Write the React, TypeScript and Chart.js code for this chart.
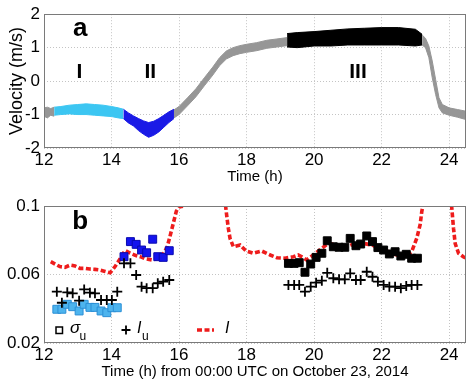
import React, { useEffect, useRef } from 'react';
import { Chart, registerables } from 'chart.js';
Chart.register(...registerables);

const FONT = 'Arial, "Liberation Sans", sans-serif';

// ---------- Panel a: velocity envelopes (upper / lower) per segment ----------
const gray1T = [12.0, 12.1, 12.2, 12.3];
const gray1Hi = [-0.8, -0.78, -0.82, -0.78];
const gray1Lo = [-1.05, -1.1, -1.02, -1.05];

const phase1T = [12.3, 12.5, 12.75, 13.0, 13.25, 13.5, 13.75, 14.0, 14.2, 14.35];
const phase1Hi = [-0.78, -0.76, -0.72, -0.7, -0.68, -0.7, -0.72, -0.76, -0.8, -0.84];
const phase1Lo = [-1.02, -1.0, -0.98, -1.0, -1.0, -1.02, -1.04, -1.06, -1.1, -1.12];

const phase2T = [14.35, 14.5, 14.65, 14.8, 14.95, 15.1, 15.25, 15.4, 15.55, 15.7, 15.85];
const phase2Hi = [-0.84, -0.95, -1.04, -1.12, -1.19, -1.24, -1.2, -1.12, -1.02, -0.92, -0.84];
const phase2Lo = [-1.12, -1.25, -1.34, -1.48, -1.59, -1.68, -1.62, -1.52, -1.38, -1.24, -1.12];

const gray2T = [15.85, 16.0, 16.25, 16.5, 16.75, 17.0, 17.2, 17.4, 17.6, 17.8, 18.0, 18.3, 18.6, 18.9, 19.2];
const gray2Hi = [-0.86, -0.76, -0.5, -0.23, 0.1, 0.42, 0.7, 0.9, 1.0, 1.06, 1.1, 1.15, 1.22, 1.26, 1.3];
const gray2Lo = [-1.1, -1.0, -0.74, -0.47, -0.14, 0.18, 0.46, 0.66, 0.76, 0.82, 0.86, 0.91, 0.98, 1.02, 1.06];

const phase3T = [19.2, 19.5, 20.0, 20.5, 21.0, 21.5, 22.0, 22.5, 23.0, 23.2];
const phase3Hi = [1.42, 1.45, 1.48, 1.52, 1.56, 1.58, 1.6, 1.6, 1.55, 1.4];
const phase3Lo = [1.02, 1.0, 1.05, 1.05, 1.08, 1.08, 1.08, 1.08, 1.05, 1.08];

const gray3T = [23.2, 23.3, 23.4, 23.5, 23.6, 23.7, 23.8, 24.0, 24.25, 24.5];
const gray3Hi = [1.38, 1.28, 1.05, 0.6, 0.05, -0.5, -0.7, -0.8, -0.85, -0.9];
const gray3Lo = [1.08, 1.0, 0.7, 0.1, -0.4, -0.8, -0.95, -1.02, -1.08, -1.15];

const xTicks = [12, 14, 16, 18, 20, 22, 24];
const velTicks = [-2, -1, 0, 1, 2];
const phaseLabels = ['I', 'II', 'III'];
const phaseLabelTimes = [13.05, 15.15, 21.3];
const phaseLabelVel = 0.28;

// ---------- Panel b ----------
const sigma1T = [12.38, 12.53, 12.69, 12.85, 13.04, 13.19, 13.36, 13.51, 13.69, 13.86, 14.01, 14.17];
const sigma1V = [0.0397, 0.0397, 0.0426, 0.0412, 0.0387, 0.0426, 0.0408, 0.0408, 0.0387, 0.0377, 0.0406, 0.0406];
const iu1V = [0.05, 0.0435, 0.0496, 0.049, 0.0447, 0.0513, 0.0494, 0.049, 0.0451, 0.0451, 0.0451, 0.05];

const sigma2T = [14.37, 14.56, 14.73, 14.89, 15.04, 15.22, 15.37, 15.53, 15.71];
const sigma2V = [0.0704, 0.0792, 0.0776, 0.0743, 0.0727, 0.0806, 0.0704, 0.07, 0.0739];
const iu2V = [0.0665, 0.0665, 0.0597, 0.0529, 0.052, 0.052, 0.0549, 0.0558, 0.0568];

const sigma3T = [19.24, 19.41, 19.56, 19.73, 19.9, 20.06, 20.23, 20.39, 20.57, 20.74, 20.91, 21.07, 21.24, 21.38, 21.56, 21.73, 21.89, 22.06, 22.23, 22.4, 22.57, 22.73, 22.89, 23.06];
const sigma3V = [0.0665, 0.0665, 0.0669, 0.0613, 0.0661, 0.07, 0.0724, 0.0797, 0.0762, 0.0759, 0.0759, 0.0811, 0.0768, 0.0778, 0.0825, 0.0792, 0.0757, 0.0743, 0.072, 0.0733, 0.0708, 0.0718, 0.0695, 0.0695];
const iu3V = [0.0539, 0.0539, 0.0539, 0.05, 0.0529, 0.0552, 0.0564, 0.061, 0.0578, 0.0572, 0.0572, 0.0607, 0.0568, 0.0568, 0.0616, 0.0587, 0.0558, 0.0539, 0.0529, 0.0529, 0.052, 0.0533, 0.0539, 0.0539];

const int1T = [12.2, 12.33, 12.47, 12.62, 12.77, 12.92, 13.07, 13.21, 13.36, 13.51, 13.66, 13.81, 13.96, 14.1, 14.25, 14.4, 14.55, 14.7, 14.85, 15.0, 15.2, 15.4, 15.55, 15.65, 15.73, 15.83, 15.92, 16.0, 16.15, 16.22];
const int1V = [0.0675, 0.0661, 0.0646, 0.0642, 0.0655, 0.065, 0.0636, 0.0636, 0.0632, 0.063, 0.0626, 0.0618, 0.061, 0.0645, 0.069, 0.074, 0.0725, 0.0712, 0.0704, 0.0692, 0.0685, 0.0695, 0.0725, 0.0762, 0.0821, 0.0899, 0.097, 0.0995, 0.1, 0.11];
const int2T = [17.35, 17.41, 17.46, 17.51, 17.61, 17.81, 17.99, 18.2, 18.45, 18.7, 18.9, 19.14, 19.39, 19.53, 19.68, 19.78, 19.98, 20.23, 20.42, 20.67, 20.97, 21.21, 21.46, 21.71, 21.96, 22.2, 22.45, 22.7, 22.89, 23.04, 23.14, 23.19, 23.22, 23.25];
const int2V = [0.105, 0.0947, 0.087, 0.0811, 0.0762, 0.0772, 0.0737, 0.0724, 0.0737, 0.0714, 0.0698, 0.0695, 0.0704, 0.0714, 0.0698, 0.0685, 0.0714, 0.0753, 0.0782, 0.0772, 0.0762, 0.0782, 0.0782, 0.0772, 0.0753, 0.0733, 0.0714, 0.0704, 0.0733, 0.0811, 0.0889, 0.0967, 0.0996, 0.11];
const int3T = [24.04, 24.08, 24.13, 24.18, 24.28, 24.42, 24.5];
const int3V = [0.105, 0.0987, 0.087, 0.078, 0.0724, 0.0704, 0.0695];

const tiTicks = [0.02, 0.06, 0.1];

const pts = (t: number[], v: number[]) => t.map((x, i) => ({ x, y: v[i] }));

const boxPlugin = {
  id: 'box',
  afterDraw(chart: any) {
    const { ctx, chartArea: a } = chart;
    ctx.save();
    ctx.strokeStyle = '#7a7a7a';
    ctx.lineWidth = 1;
    ctx.strokeRect(Math.round(a.left) + 0.5, Math.round(a.top) + 0.5, Math.round(a.right - a.left) - 1, Math.round(a.bottom - a.top) - 1);
    ctx.restore();
  },
};

function band(t: number[], hi: number[], lo: number[], color: string) {
  return [
    { data: pts(t, hi), borderColor: color, backgroundColor: color, borderWidth: 1, pointRadius: 0, fill: false },
    { data: pts(t, lo), borderColor: color, backgroundColor: color, borderWidth: 1, pointRadius: 0, fill: '-1' },
  ];
}

function axisX(title: string, titlePadBottom: number, height: number) {
  return {
    type: 'linear',
    min: 12,
    max: 24.5,
    afterBuildTicks: (s: any) => { s.ticks = xTicks.map((value) => ({ value })); },
    afterFit: (s: any) => { s.height = height; },
    grid: { color: '#c4c4c4', drawTicks: false, lineWidth: 1 },
    border: { display: false, dash: [1, 2] },
    ticks: { font: { family: FONT, size: 17 }, color: '#000', padding: 2, maxRotation: 0, autoSkip: false },
    title: { display: true, text: title, font: { family: FONT, size: 15 }, color: '#000', padding: { top: 0, bottom: titlePadBottom } },
  };
}

function topConfig(): any {
  const gray = '#969696';
  return {
    type: 'line',
    data: {
      datasets: [
        ...band(gray1T, gray1Hi, gray1Lo, gray),
        ...band(phase1T, phase1Hi, phase1Lo, '#3cc6f2'),
        ...band(phase2T, phase2Hi, phase2Lo, '#1a1ae6'),
        ...band(gray2T, gray2Hi, gray2Lo, gray),
        ...band(phase3T, phase3Hi, phase3Lo, '#000000'),
        ...band(gray3T, gray3Hi, gray3Lo, gray),
      ],
    },
    options: {
      animation: false,
      responsive: false,
      maintainAspectRatio: false,
      layout: { padding: { left: 0, top: 14, right: 8, bottom: 0 } },
      plugins: { legend: { display: false }, tooltip: { enabled: false } },
      elements: { line: { tension: 0 } },
      scales: {
        x: axisX('Time (h)', 4, 42),
        y: {
          min: -2,
          max: 2,
          afterBuildTicks: (s: any) => { s.ticks = velTicks.map((value) => ({ value })); },
          afterFit: (s: any) => { s.width = 44; },
          grid: { color: '#c4c4c4', drawTicks: false },
          border: { display: false, dash: [1, 2] },
          ticks: { font: { family: FONT, size: 17 }, color: '#000', padding: 4 },
          title: { display: true, text: 'Velocity (m/s)', font: { family: FONT, size: 18 }, color: '#000', padding: { top: 6, bottom: 0 } },
        },
      },
    },
    plugins: [
      boxPlugin,
      {
        id: 'labelsA',
        afterDraw(chart: any) {
          const { ctx, scales } = chart;
          ctx.save();
          ctx.fillStyle = '#000';
          ctx.textAlign = 'center';
          ctx.textBaseline = 'middle';
          ctx.font = `bold 26px ${FONT}`;
          ctx.fillText('a', scales.x.getPixelForValue(13.07), scales.y.getPixelForValue(1.55));
          ctx.font = `bold 21px ${FONT}`;
          phaseLabels.forEach((l, i) => {
            ctx.fillText(l, scales.x.getPixelForValue(phaseLabelTimes[i]), scales.y.getPixelForValue(phaseLabelVel));
          });
          ctx.restore();
        },
      },
    ],
  };
}

function botConfig(): any {
  const cross = (t: number[], v: number[]) => ({
    type: 'scatter', data: pts(t, v), pointStyle: 'cross', pointRadius: 5, borderColor: '#000', borderWidth: 1.8, showLine: false,
  });
  const sq = (t: number[], v: number[], fill: string, edge: string) => ({
    type: 'scatter', data: pts(t, v), pointStyle: 'rect', pointRadius: 5.6, backgroundColor: fill, borderColor: edge, borderWidth: 1, showLine: false,
  });
  const red = (t: number[], v: number[]) => ({
    type: 'line', data: pts(t, v), borderColor: '#ee1c1c', borderWidth: 3.6, borderDash: [5, 2.5], pointRadius: 0, fill: false, clip: 0,
  });
  return {
    type: 'line',
    data: {
      datasets: [
        cross(sigma1T, iu1V),
        cross(sigma2T, iu2V),
        cross(sigma3T, iu3V),
        sq(sigma1T, sigma1V, '#4db4ee', '#2b8fd6'),
        sq(sigma2T, sigma2V, '#1414ee', '#0a0ab0'),
        sq(sigma3T, sigma3V, '#000000', '#000000'),
        red(int1T, int1V),
        red(int2T, int2V),
        red(int3T, int3V),
      ],
    },
    options: {
      animation: false,
      responsive: false,
      maintainAspectRatio: false,
      layout: { padding: { left: 0, top: 16, right: 8, bottom: 0 } },
      plugins: { legend: { display: false }, tooltip: { enabled: false } },
      elements: { line: { tension: 0 } },
      scales: {
        x: axisX('Time (h) from 00:00 UTC on October 23, 2014', 2, 40),
        y: {
          min: 0.02,
          max: 0.1,
          afterBuildTicks: (s: any) => { s.ticks = tiTicks.map((value) => ({ value })); },
          afterFit: (s: any) => { s.width = 44; },
          grid: { color: '#c4c4c4', drawTicks: false },
          border: { display: false, dash: [1, 2] },
          ticks: { font: { family: FONT, size: 17 }, color: '#000', padding: 4, callback: (v: number) => String(+v.toFixed(2)) },
        },
      },
    },
    plugins: [
      boxPlugin,
      {
        id: 'labelsB',
        afterDraw(chart: any) {
          const { ctx, scales, chartArea: a } = chart;
          ctx.save();
          ctx.fillStyle = '#000';
          ctx.textAlign = 'center';
          ctx.textBaseline = 'middle';
          ctx.font = `bold 26px ${FONT}`;
          ctx.fillText('b', scales.x.getPixelForValue(13.07), scales.y.getPixelForValue(0.0907));
          // legend
          const y = a.bottom - 13;
          const x0 = a.left;
          ctx.strokeStyle = '#000';
          ctx.lineWidth = 1.5;
          ctx.strokeRect(x0 + 12, y - 3, 6.5, 6.5);
          ctx.textAlign = 'left';
          ctx.textBaseline = 'alphabetic';
          ctx.font = `italic 17px ${FONT}`;
          ctx.fillText('σ', x0 + 26, y + 3);
          ctx.font = `12px ${FONT}`;
          ctx.fillText('u', x0 + 35.5, y + 10);
          ctx.lineWidth = 1.8;
          ctx.beginPath();
          ctx.moveTo(x0 + 77.5, y); ctx.lineTo(x0 + 86.5, y);
          ctx.moveTo(x0 + 82, y - 4.5); ctx.lineTo(x0 + 82, y + 4.5);
          ctx.stroke();
          ctx.font = `italic 16px ${FONT}`;
          ctx.fillText('I', x0 + 93, y + 3);
          ctx.font = `12px ${FONT}`;
          ctx.fillText('u', x0 + 98, y + 10);
          ctx.strokeStyle = '#ee1c1c';
          ctx.lineWidth = 3.6;
          ctx.setLineDash([5, 2.5]);
          ctx.beginPath();
          ctx.moveTo(x0 + 153, y); ctx.lineTo(x0 + 170, y);
          ctx.stroke();
          ctx.setLineDash([]);
          ctx.font = `italic 16px ${FONT}`;
          ctx.fillText('I', x0 + 181, y + 3);
          ctx.restore();
        },
      },
    ],
  };
}

export default function App() {
  const topRef = useRef<HTMLCanvasElement>(null);
  const botRef = useRef<HTMLCanvasElement>(null);
  useEffect(() => {
    const c1 = new Chart(topRef.current as HTMLCanvasElement, topConfig());
    const c2 = new Chart(botRef.current as HTMLCanvasElement, botConfig());
    return () => { c1.destroy(); c2.destroy(); };
  }, []);
  return (
    <div style={{ position: 'fixed', left: 0, top: 0, width: 474, height: 383, background: '#fff' }}>
      <canvas ref={topRef} width={474} height={190} style={{ display: 'block', width: 474, height: 190 }} />
      <canvas ref={botRef} width={474} height={193} style={{ display: 'block', width: 474, height: 193 }} />
    </div>
  );
}
